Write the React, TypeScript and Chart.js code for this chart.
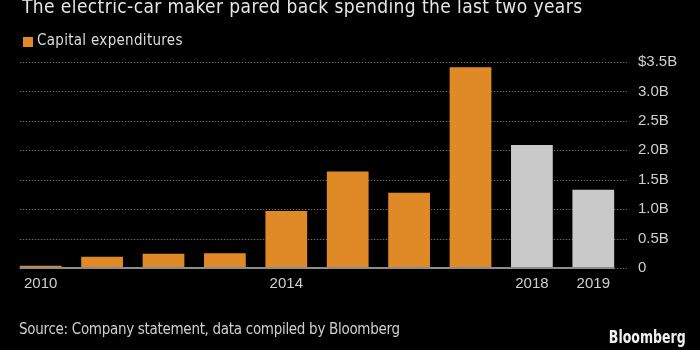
import React, { useEffect, useRef } from "react";
import { Chart, registerables } from "chart.js";

Chart.register(...registerables);

const years = ["2010", "2011", "2012", "2013", "2014", "2015", "2016", "2017", "2018", "2019"];
const capexBillions = [0.04, 0.19, 0.24, 0.25, 0.97, 1.64, 1.28, 3.41, 2.09, 1.33];
const labelledYears = ["2010", "2014", "2018", "2019"];
const grayYears = ["2018", "2019"];
const yMax = 3.5;
const yStep = 0.5;

const ORANGE = "#E08A27";
const GRAY = "#C9C9C9";

const gridPlugin = {
  id: "bbgGrid",
  beforeDatasetsDraw(chart: any) {
    const { ctx, chartArea } = chart;
    const yScale = chart.scales.y;
    const meta = chart.getDatasetMeta(0);
    const first = meta.data[0] as any;
    const left = first.x - first.width / 2;
    const right = chartArea.right + 3;
    ctx.save();
    ctx.strokeStyle = "#6a6a6a";
    ctx.lineWidth = 1;
    ctx.setLineDash([1.5, 1.5]);
    yScale.ticks.forEach((t: any) => {
      const y = Math.round(yScale.getPixelForValue(t.value)) + 0.5;
      ctx.beginPath();
      ctx.moveTo(left, y);
      ctx.lineTo(right, y);
      ctx.stroke();
    });
    ctx.restore();
  },
  afterDatasetsDraw(chart: any) {
    const { ctx } = chart;
    const yScale = chart.scales.y;
    const meta = chart.getDatasetMeta(0);
    const first = meta.data[0] as any;
    const last = meta.data[meta.data.length - 1] as any;
    const y = yScale.getPixelForValue(0);
    ctx.save();
    ctx.strokeStyle = "#8c8c8c";
    ctx.lineWidth = 2;
    ctx.beginPath();
    ctx.moveTo(first.x - first.width / 2, y);
    ctx.lineTo(last.x + last.width / 2, y);
    ctx.stroke();
    ctx.restore();
  },
};

export default function App() {
  const ref = useRef<HTMLCanvasElement>(null);
  useEffect(() => {
    if (!ref.current) return;
    const chart = new Chart(ref.current, {
      type: "bar",
      data: {
        labels: years,
        datasets: [
          {
            label: "Capital expenditures",
            data: capexBillions,
            backgroundColor: years.map((y) => (grayYears.includes(y) ? GRAY : ORANGE)),
            borderWidth: 0,
            barPercentage: 0.68,
            categoryPercentage: 1,
          },
        ],
      },
      options: {
        responsive: false,
        animation: false,
        layout: { padding: { left: 10, top: 62, right: 0, bottom: 0 } },
        plugins: { legend: { display: false }, tooltip: { enabled: false }, title: { display: false } },
        scales: {
          x: {
            grid: { display: false, drawTicks: false },
            border: { display: false },
            ticks: {
              autoSkip: false,
              maxRotation: 0,
              padding: 7,
              color: "#cfcfcf",
              font: { family: "Liberation Sans", size: 15 },
              callback: (_v: any, i: number) => (labelledYears.includes(years[i]) ? years[i] : ""),
            },
            afterFit: (s: any) => {
              s.height = 82;
            },
          },
          y: {
            position: "right",
            min: 0,
            max: yMax,
            grid: { display: false, drawTicks: false },
            border: { display: false },
            ticks: {
              stepSize: yStep,
              padding: 14,
              color: "#cfcfcf",
              font: { family: "Liberation Sans", size: 15 },
              callback: (v: any) => {
                const n = Number(v);
                if (n === 0) return "0";
                return (n === yMax ? "$" : "") + n.toFixed(1) + "B";
              },
            },
            afterFit: (s: any) => {
              s.width = 76;
            },
          },
        },
      },
      plugins: [gridPlugin],
    });
    return () => chart.destroy();
  }, []);

  const narrow = "'Liberation Sans Narrow', 'DejaVu Sans Condensed', 'Liberation Sans', sans-serif";
  const base: React.CSSProperties = { position: "absolute", whiteSpace: "nowrap", lineHeight: 1, fontFamily: narrow };
  return (
    <div style={{ position: "absolute", left: 0, top: 0, width: 700, height: 350, background: "#000", overflow: "hidden" }}>
      <canvas ref={ref} width={700} height={350} style={{ position: "absolute", left: 0, top: 0 }} />
      <div style={{ ...base, left: 22, top: -2.6, fontSize: 19, letterSpacing: 0.4, color: "#e6e6e6" }}>
        The electric-car maker pared back spending the last two years
      </div>
      <div style={{ position: "absolute", left: 23, top: 37, width: 10, height: 10, background: ORANGE }} />
      <div style={{ ...base, left: 37, top: 33.3, fontSize: 15, letterSpacing: 0.3, color: "#dcdcdc" }}>
        Capital expenditures
      </div>
      <div style={{ ...base, left: 19, top: 322.3, fontSize: 15, letterSpacing: -0.3, color: "#d0d0d0" }}>
        Source: Company statement, data compiled by Bloomberg
      </div>
      <div
        style={{
          ...base,
          right: 14,
          top: 328.6,
          fontSize: 17,
          fontWeight: "bold",
          color: "#f0f0f0",
          transform: "scaleX(0.82)",
          transformOrigin: "right center",
        }}
      >
        Bloomberg
      </div>
    </div>
  );
}
